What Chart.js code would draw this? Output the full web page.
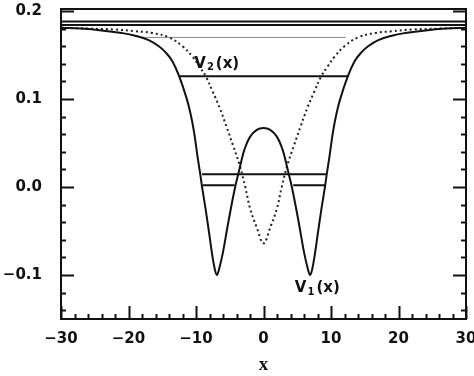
<!DOCTYPE html>
<html>
<head>
<meta charset="utf-8">
<script src="https://cdn.jsdelivr.net/npm/chart.js@4/dist/chart.umd.min.js"></script>
<style>
  html, body { margin: 0; padding: 0; background: #fff; }
  canvas { display: block; }
</style>
</head>
<body>
<canvas id="chart" width="474" height="376"></canvas>
<script>
// V1(x): solid double well
const v1X = [-30, -27, -24, -21, -19, -17, -15.5, -14.5, -13.5, -12.5, -11.4, -10.8, -10.3, -9.8, -9.4, -9.1,
             -8.6, -8.1, -7.6, -7.2, -6.9, -6.6, -6.0, -5.4, -4.8, -4.2, -3.7, -3.3, -2.8, -2.0, -1.0, 0,
             1.0, 2.0, 2.8, 3.3, 3.7, 4.2, 4.8, 5.4, 6.0, 6.6, 6.9, 7.2, 7.6, 8.1, 8.6,
             9.1, 9.4, 9.8, 10.3, 10.8, 11.4, 12.5, 13.5, 14.5, 15.5, 17, 19, 21, 24, 27, 30];
const v1Y = [0.181, 0.180, 0.178, 0.175, 0.172, 0.167, 0.160, 0.153, 0.143, 0.126, 0.101, 0.083, 0.063, 0.036, 0.016, 0.000,
             -0.024, -0.050, -0.077, -0.094, -0.100, -0.094, -0.074, -0.048, -0.023, 0.000, 0.016, 0.029, 0.043, 0.057, 0.065, 0.067,
             0.065, 0.057, 0.043, 0.029, 0.016, 0.000, -0.023, -0.048, -0.074, -0.094, -0.100, -0.094, -0.077, -0.050, -0.024,
             0.000, 0.016, 0.036, 0.063, 0.083, 0.101, 0.126, 0.143, 0.153, 0.160, 0.167, 0.172, 0.175, 0.178, 0.180, 0.181];

// V2(x): dotted single well
const v2X = [-30, -26, -22, -19, -16.5, -14, -12, -10.5, -9.5, -8.5, -7.5, -6.5, -5.5, -4.5, -3.5, -2.7, -2.0, -1.0, 0,
             1.0, 2.0, 2.7, 3.5, 4.5, 5.5, 6.5, 7.5, 8.5, 9.5, 10.5, 12, 14, 16.5, 19, 22, 26, 30];
const v2Y = [0.181, 0.180, 0.179, 0.177, 0.175, 0.170, 0.160, 0.148, 0.137, 0.125, 0.108, 0.090, 0.069, 0.047, 0.024, 0.000, -0.024, -0.046, -0.064,
             -0.046, -0.024, 0.000, 0.024, 0.047, 0.069, 0.090, 0.108, 0.125, 0.137, 0.148, 0.160, 0.170, 0.175, 0.177, 0.179, 0.180, 0.181];

// energy levels (horizontal segments)
const levelY     = [0.188, 0.184, 0.170, 0.126, 0.0144, 0.002, 0.002];
const levelStart = [-30,   -30,   -18.3, -12.4, -9.1,   -9.0,  4.4];
const levelEnd   = [30,    30,    12.2,  12.6,  9.4,    -4.3,  9.1];
const levelThin  = [false, false, true,  false, false,  false, false];

const xTicks = [-30, -20, -10, 0, 10, 20, 30];
const yTicks = [-0.1, 0.0, 0.1, 0.2];

const toPoints = (xs, ys) => xs.map((x, i) => ({ x: x, y: ys[i] }));
const minus = s => String(s).replace('-', '\u2212');

const datasets = [
    {
        data: toPoints(v1X, v1Y),
        borderColor: '#111',
        borderWidth: 2,
        tension: 0.4,
        showLine: true,
        pointRadius: 0
    },
    {
        data: toPoints(v2X, v2Y),
        borderColor: '#222',
        borderWidth: 2,
        borderDash: [2, 3],
        tension: 0.4,
        showLine: true,
        pointRadius: 0
    }
];

levelY.forEach((y, i) => {
    datasets.push({
        data: [{ x: levelStart[i], y: y }, { x: levelEnd[i], y: y }],
        borderColor: levelThin[i] ? '#888' : '#111',
        borderWidth: levelThin[i] ? 1 : 2,
        showLine: true,
        pointRadius: 0
    });
});

// frame, inward ticks and curve labels
const framePlugin = {
    id: 'frame',
    afterDatasetsDraw(chart) {
        const { ctx, chartArea: a, scales: { x, y } } = chart;
        ctx.save();
        ctx.strokeStyle = '#111';
        ctx.lineWidth = 2;
        ctx.strokeRect(a.left, a.top, a.right - a.left, a.bottom - a.top);

        // x ticks on the bottom
        for (let v = -30; v <= 30; v += 2) {
            const px = Math.round(x.getPixelForValue(v)) + 0.5;
            const len = v % 10 === 0 ? 13 : 5;
            ctx.beginPath();
            ctx.moveTo(px, a.bottom);
            ctx.lineTo(px, a.bottom - len);
            ctx.stroke();
        }
        // y ticks on left and right
        for (let k = -7; k <= 10; k++) {
            const v = k * 0.02;
            const py = Math.round(y.getPixelForValue(v)) + 0.5;
            const len = k % 5 === 0 ? 13 : 5;
            ctx.beginPath();
            ctx.moveTo(a.left, py);
            ctx.lineTo(a.left + len, py);
            ctx.moveTo(a.right, py);
            ctx.lineTo(a.right - len, py);
            ctx.stroke();
        }

        // curve labels
        const drawLabel = (sub, xv, yv) => {
            const big = 'bold 15px "DejaVu Sans"';
            const small = 'bold 10px "DejaVu Sans"';
            ctx.fillStyle = '#111';
            ctx.textBaseline = 'middle';
            ctx.textAlign = 'left';
            ctx.font = big;
            const wV = ctx.measureText('V').width;
            const wP = ctx.measureText('(x)').width;
            ctx.font = small;
            const wS = ctx.measureText(sub).width + 2;
            const total = wV + wS + wP;
            let px = x.getPixelForValue(xv) - total / 2;
            const py = y.getPixelForValue(yv);
            ctx.font = big;
            ctx.fillText('V', px, py);
            px += wV + 1;
            ctx.font = small;
            ctx.fillText(sub, px, py + 4);
            px += wS;
            ctx.font = big;
            ctx.fillText('(x)', px, py);
        };
        drawLabel('2', -7.0, 0.140);
        drawLabel('1', 7.9, -0.115);
        ctx.restore();
    }
};

new Chart(document.getElementById('chart'), {
    type: 'scatter',
    data: { datasets },
    options: {
        responsive: false,
        animation: false,
        devicePixelRatio: 1,
        layout: { padding: { left: 0, right: 8, top: 9, bottom: 0 } },
        plugins: {
            legend: { display: false },
            tooltip: { enabled: false }
        },
        scales: {
            x: {
                type: 'linear',
                min: -30,
                max: 30,
                grid: { display: false, drawTicks: false },
                border: { display: false },
                afterBuildTicks: (scale) => { scale.ticks = xTicks.map(v => ({ value: v })); },
                afterFit: (scale) => { scale.height = 57; scale.paddingLeft = 0; scale.paddingRight = 0; },
                ticks: {
                    color: '#111',
                    padding: 11,
                    maxRotation: 0,
                    font: { family: 'DejaVu Sans', size: 15, weight: 'bold' },
                    callback: (v) => minus(v)
                },
                title: {
                    display: true,
                    text: 'x',
                    color: '#111',
                    padding: { top: 0, bottom: 0 },
                    font: { family: 'Liberation Serif', size: 19, weight: 'bold' }
                }
            },
            y: {
                type: 'linear',
                min: -0.15,
                max: 0.2023,
                grid: { display: false, drawTicks: false },
                border: { display: false },
                afterBuildTicks: (scale) => { scale.ticks = yTicks.map(v => ({ value: v })); },
                afterFit: (scale) => { scale.width = 61; scale.paddingTop = 0; scale.paddingBottom = 0; },
                ticks: {
                    color: '#111',
                    padding: 19,
                    font: { family: 'DejaVu Sans', size: 15, weight: 'bold' },
                    callback: (v) => minus(v.toFixed(1))
                }
            }
        }
    },
    plugins: [framePlugin]
});
</script>
</body>
</html>
